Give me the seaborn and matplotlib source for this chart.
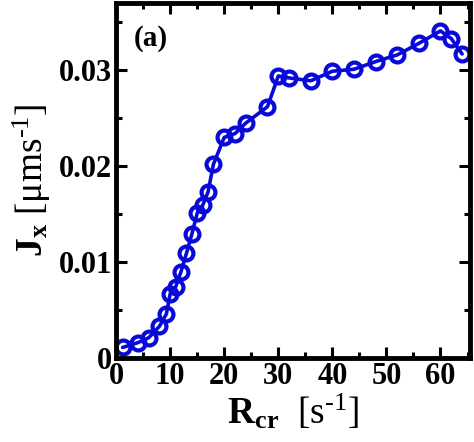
import matplotlib
matplotlib.use("Agg")
import matplotlib.pyplot as plt
import seaborn as sns
import pandas as pd
from matplotlib.ticker import MultipleLocator

# data
r_cr = [1.2, 4, 6, 8, 9.3, 10, 11, 12, 13, 14, 15, 16, 17, 18,
        20, 22, 24, 28, 30, 32, 36, 40, 44, 48, 52, 56, 60, 62, 64]
j_x = [0.0011, 0.0016, 0.0021, 0.0033, 0.0046, 0.0067, 0.0074, 0.0090,
       0.0109, 0.0129, 0.0151, 0.0159, 0.0173, 0.0202,
       0.0230, 0.0234, 0.0245, 0.0262, 0.0294, 0.0292, 0.0289, 0.0299,
       0.0301, 0.0309, 0.0316, 0.0328, 0.0341, 0.0333, 0.0317]

df = pd.DataFrame({'R': r_cr, 'J': j_x})

sns.set_style('ticks')
plt.rcParams['font.family'] = ['Liberation Serif', 'DejaVu Serif']
plt.rcParams['text.color'] = 'black'
plt.rcParams['axes.labelcolor'] = 'black'
plt.rcParams['xtick.color'] = 'black'
plt.rcParams['ytick.color'] = 'black'
plt.rcParams['mathtext.fontset'] = 'custom'
plt.rcParams['mathtext.rm'] = 'Liberation Serif'
plt.rcParams['mathtext.it'] = 'Liberation Serif:italic'
plt.rcParams['mathtext.bf'] = 'Liberation Serif:bold'

fig = plt.figure(figsize=(4.74, 4.42), dpi=100)
ax = fig.add_axes([0.245, 0.19, 0.747, 0.803])

blue = '#0a0ad8'
sns.lineplot(data=df, x='R', y='J', ax=ax, color=blue, linewidth=2.6,
             marker='o', markersize=10, markerfacecolor='none',
             markeredgecolor=blue, markeredgewidth=3)

ax.set_xlim(0, 65.5)
ax.set_ylim(0, 0.037)
ax.xaxis.set_major_locator(MultipleLocator(10))
ax.xaxis.set_minor_locator(MultipleLocator(5))
ax.yaxis.set_minor_locator(MultipleLocator(0.005))
ax.set_yticks([0, 0.01, 0.02, 0.03])
ax.set_yticklabels(['0', '0.01', '0.02', '0.03'])

ax.tick_params(which='both', direction='in', top=True, right=True,
               width=2.2, labelsize=22, color='black', labelcolor='black')
ax.tick_params(which='major', length=8, pad=3)
ax.tick_params(which='minor', length=4.5)
for lbl in ax.get_xticklabels() + ax.get_yticklabels():
    lbl.set_fontweight('bold')
for sp in ax.spines.values():
    sp.set_linewidth(3.5)
    sp.set_color('black')

ax.set_xlabel(r'$\mathbf{R_{cr}}$  [s$^{\text{-1}}$]', fontsize=27,
              fontweight='normal', labelpad=1)
ax.set_ylabel(r'$\mathbf{J_x}$ [μms$^{\text{-1}}$]', fontsize=27,
              fontweight='normal', labelpad=4)
ax.text(0.05, 0.9, '(a)', transform=ax.transAxes, fontsize=21,
        fontweight='bold', va='center')

fig.savefig('out.png', dpi=100)
